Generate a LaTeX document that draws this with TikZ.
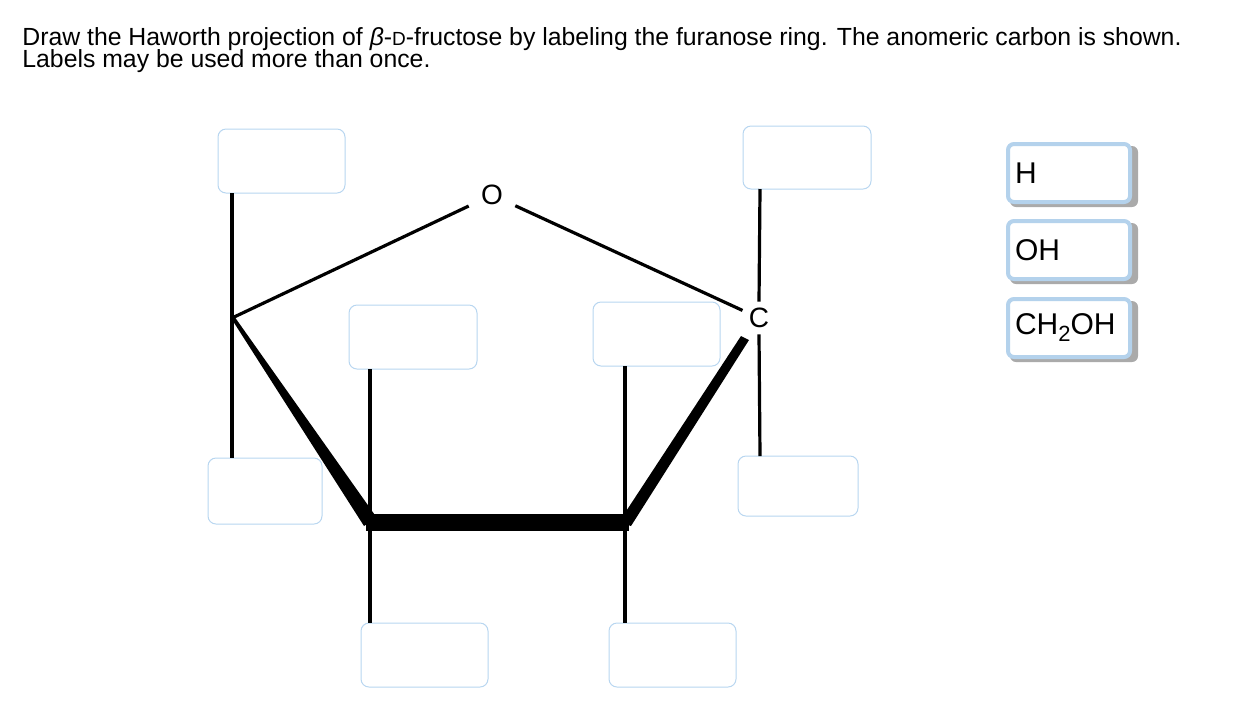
\documentclass[tikz,border=0pt]{standalone}
\usepackage{fontspec}
\setmainfont{Liberation Sans}
\newcommand{\mysub}[1]{\raisebox{-3.5pt}{\fontsize{11}{11}\selectfont #1}}
\begin{document}
\begin{tikzpicture}[x=0.5pt,y=-0.5pt,
  blank/.style={draw={rgb,255:red,184;green,214;blue,240},line width=0.5pt,rounded corners=4pt,fill=white},
  lab/.style={draw={rgb,255:red,180;green,210;blue,236},line width=2pt,rounded corners=3pt,fill=white,minimum width=61pt,minimum height=29pt,inner sep=0pt,font=\fontsize{15}{15}\selectfont,anchor=north west,text width=58pt,align=left},
  shad/.style={fill={rgb,255:red,170;green,170;blue,170},rounded corners=3pt},
  bond/.style={line width=1.6pt},
  atom/.style={font=\fontsize{14}{14}\selectfont,inner sep=6pt}]
\useasboundingbox (0,0) rectangle (1252,714);
\node[anchor=base west,inner sep=0pt,font=\fontsize{12.4}{12.4}\selectfont] (t1) at (22,45) {Draw the Haworth projection of \textit{β}-{\fontsize{9.5}{9.5}\selectfont D}-fructose by labeling the furanose ring. The anomeric carbon is shown.};
\node[anchor=base west,inner sep=0pt,font=\fontsize{12.4}{12.4}\selectfont] (t2) at (22,67) {Labels may be used more than once.};
% atoms
\node[atom] (O) at (492,195) {O};
\node[atom,inner sep=3pt] (C) at (759,318) {C};
\coordinate (L) at (232,318);
% blanks
\draw[blank] (218,129) rectangle (345,193);
\draw[blank] (743,126) rectangle (871,189);
\draw[blank] (349,305) rectangle (477,369);
\draw[blank] (593,302) rectangle (720,366);
\draw[blank] (208,458) rectangle (322,524);
\draw[blank] (738,456) rectangle (858,516);
\draw[blank] (361,623) rectangle (488,687);
\draw[blank] (609,623) rectangle (736,687);
% bonds
\draw[bond] (232,193) -- (232,458);
\draw[bond] (L) -- (O);
\draw[bond] (O) -- (C);
\draw[bond] (760,189) -- (C.north);
\draw[bond] (C.south) -- (760,456);
\draw[bond] (370,369) -- (370,623);
\draw[bond] (625,366) -- (625,623);
\fill (231,318) -- (234,316) -- (377,518) -- (364,526) -- cycle;
\fill (366,514) rectangle (629,531);
\fill (619,522) -- (741,336) -- (749,340) -- (631,526) -- cycle;
% label tiles
\foreach \y/\t/\n in {142/H/h,219/OH/oh,297/CH\mysub{2}OH/ch}{
  \fill[shad] (1010,\y+4) rectangle (1138,\y+65);
  \node[lab] (\n) at (1006,\y) {\hspace{2pt}\t};
}
\end{tikzpicture}
\end{document}
